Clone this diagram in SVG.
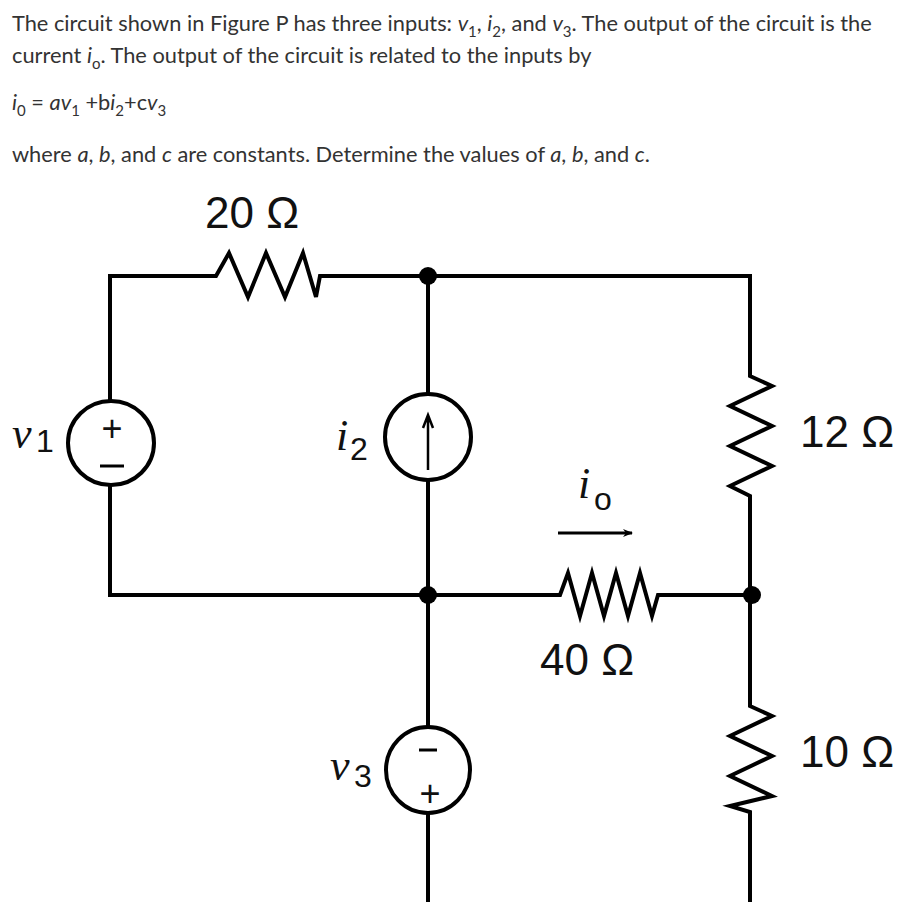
<svg xmlns="http://www.w3.org/2000/svg" width="918" height="902" viewBox="0 0 918 902">
<style>
.t{font-family:Lato,"Liberation Sans",sans-serif;font-size:21.8px;fill:#333}
.w{fill:none;stroke:#000;stroke-width:4;stroke-linejoin:miter}
.l{font-family:"Liberation Sans",sans-serif;font-size:44px;fill:#111}
.v{font-family:"Liberation Serif",serif;font-style:italic;font-size:44px;fill:#111}
.s{font-family:"Liberation Sans",sans-serif;font-size:32px;fill:#111}
.p{font-family:"Liberation Sans",sans-serif;font-size:36px;fill:#111}
</style>
<defs><marker id="ah" markerWidth="10" markerHeight="8" refX="9" refY="4" orient="auto" markerUnits="userSpaceOnUse"><path d="M0,0 L10,4 L0,8 L3,4 Z" fill="#000"/></marker></defs>
<g id="question">
<text class="t" x="12" y="31">The circuit shown in Figure P  has three inputs: <tspan font-style="italic">v</tspan><tspan font-size="15" dy="6">1</tspan><tspan dy="-6">, </tspan><tspan font-style="italic">i</tspan><tspan font-size="15" dy="6">2</tspan><tspan dy="-6">, and </tspan><tspan font-style="italic">v</tspan><tspan font-size="15" dy="6">3</tspan><tspan dy="-6">. The output of the circuit is the</tspan></text>
<text class="t" x="12" y="63">current <tspan font-style="italic">i</tspan><tspan font-size="15" dy="6">o</tspan><tspan dy="-6">. The output of the circuit is related to the inputs by</tspan></text>
<text class="t" x="12" y="110"><tspan font-style="italic">i</tspan><tspan font-size="15" dy="6">0</tspan><tspan dy="-6"> = </tspan><tspan font-style="italic">av</tspan><tspan font-size="15" dy="6">1</tspan><tspan dy="-6"> +b</tspan><tspan font-style="italic">i</tspan><tspan font-size="15" dy="6">2</tspan><tspan dy="-6">+c</tspan><tspan font-style="italic">v</tspan><tspan font-size="15" dy="6">3</tspan></text>
<text class="t" x="12" y="162">where <tspan font-style="italic">a</tspan>, <tspan font-style="italic">b</tspan>, and <tspan font-style="italic">c</tspan> are constants. Determine the values of <tspan font-style="italic">a</tspan>, <tspan font-style="italic">b</tspan>, and <tspan font-style="italic">c</tspan>.</text>
</g>
<g id="wires">
<path class="w" d="M110,400 V276 H212"/>
<path class="w" d="M326,276 H750 V370"/>
<path class="w" d="M428,276 V394"/>
<path class="w" d="M428,480 V727"/>
<path class="w" d="M110,486 V595 H555"/>
<path class="w" d="M663,595 H750"/>
<path class="w" d="M750,512 V700"/>
<path class="w" d="M750,815 V902"/>
<path class="w" d="M428,813 V902"/>
<path d="M558,533 H632" stroke="#000" stroke-width="3" marker-end="url(#ah)"/>
</g>
<g id="nodes">
<circle cx="428" cy="276" r="9"/><circle cx="428" cy="595" r="9"/><circle cx="752" cy="595" r="9"/>
</g>
<g id="R20"><path class="w" d="M212,276 L216,276 L229,253 L248,297 L266,253 L285,297 L303,253 L316,297 L320,276 L326,276"/><text class="l" x="205" y="228">20 Ω</text></g>
<g id="v1"><ellipse class="w" cx="111" cy="443" rx="43" ry="42"/><text class="p" x="112" y="441" text-anchor="middle">+</text><path d="M100,466 H124" stroke="#000" stroke-width="3"/><text class="v" x="12" y="448">v</text><text class="s" x="36" y="452">1</text></g>
<g id="i2"><ellipse class="w" cx="428" cy="437" rx="43" ry="43"/><path d="M428,470 V415 M423,428 L428,415 L433,428" fill="none" stroke="#000" stroke-width="2.5"/><text class="v" x="336" y="450">i</text><text class="s" x="350" y="460">2</text></g>
<g id="R12"><path class="w" d="M750,370 L750,376 L772,386 L730,406 L772,426 L730,446 L772,466 L730,486 L750,496 L750,512"/><text class="l" x="800" y="447">12 Ω</text></g>
<g id="R40"><path class="w" d="M555,595 L560,595 L568,573 L580,616 L592,573 L604,616 L616,573 L628,616 L640,573 L652,616 L658,595 L663,595"/><text class="l" x="540" y="675">40 Ω</text></g>
<g id="io"><text class="v" x="578" y="498">i</text><text class="s" x="594" y="510">o</text></g>
<g id="R10"><path class="w" d="M750,700 L750,706 L772,716 L730,736 L772,756 L730,776 L772,796 L730,806 L750,812 L750,815"/><text class="l" x="800" y="767">10 Ω</text></g>
<g id="v3"><ellipse class="w" cx="428" cy="770" rx="42" ry="43"/><path d="M419,750 H437" stroke="#000" stroke-width="3"/><text class="p" x="430" y="806" text-anchor="middle">+</text><text class="v" x="330" y="780">v</text><text class="s" x="354" y="787">3</text></g>
</svg>
